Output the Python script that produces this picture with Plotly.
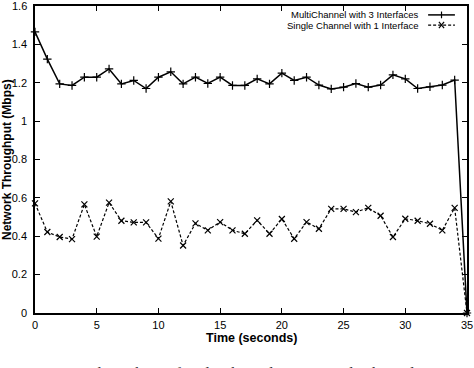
import plotly.graph_objects as go

time_s = list(range(0, 36))
multi_channel = [1.465, 1.323, 1.194, 1.186, 1.229, 1.229, 1.272, 1.194, 1.212, 1.170,
                 1.229, 1.257, 1.194, 1.229, 1.196, 1.229, 1.186, 1.186, 1.220, 1.194,
                 1.250, 1.212, 1.229, 1.188, 1.168, 1.177, 1.196, 1.177, 1.188, 1.241,
                 1.220, 1.170, 1.179, 1.188, 1.214, 0.0]
single_channel = [0.571, 0.422, 0.396, 0.385, 0.566, 0.398, 0.575, 0.481, 0.472, 0.472,
                  0.388, 0.582, 0.352, 0.467, 0.431, 0.474, 0.431, 0.413, 0.483, 0.413,
                  0.490, 0.387, 0.474, 0.439, 0.543, 0.543, 0.526, 0.548, 0.507, 0.396,
                  0.491, 0.481, 0.465, 0.431, 0.548, 0.0]
x_ticks = [0, 5, 10, 15, 20, 25, 30, 35]
y_ticks = [0, 0.2, 0.4, 0.6, 0.8, 1, 1.2, 1.4, 1.6]
y_tick_labels = ["0", "0.2", "0.4", "0.6", "0.8", "1", "1.2", "1.4", "1.6"]
series_names = ["MultiChannel with 3 Interfaces", "Single Channel with 1 Interface"]
y_range = [0, 1.6]

FONT = "Liberation Sans, Arial, sans-serif"

fig = go.Figure()
fig.add_trace(go.Scatter(
    x=time_s, y=multi_channel, mode="lines+markers", name=series_names[0],
    line=dict(color="black", width=1.5),
    marker=dict(symbol="cross-thin", size=6, line=dict(color="black", width=1.2)),
    showlegend=False, cliponaxis=False))
fig.add_trace(go.Scatter(
    x=time_s, y=single_channel, mode="lines+markers", name=series_names[1],
    line=dict(color="black", width=1.2, dash="3px,2px"),
    marker=dict(symbol="x-thin", size=6, line=dict(color="black", width=1.2)),
    showlegend=False, cliponaxis=False))

axis_common = dict(
    showgrid=False, zeroline=False, showline=True, linecolor="black", linewidth=1.5,
    mirror="ticks", ticks="inside", ticklen=5, tickcolor="black", tickwidth=1,
    ticklabeloverflow="allow", automargin=False,
    tickfont=dict(family=FONT, size=11, color="black"))

# Plotly hides the top tick label at the div edge; it is drawn as a paper annotation below.
axis_labels = y_tick_labels[:-1] + [""]
fig.update_xaxes(range=[0, 35], tickvals=x_ticks, ticklabelstandoff=1, **axis_common)
fig.update_yaxes(range=y_range, tickvals=y_ticks, ticktext=axis_labels,
                 ticklabelstandoff=4, **axis_common)

top_label_y = (y_ticks[-1] - y_range[0]) / (y_range[1] - y_range[0])

annotations = [
    dict(text=y_tick_labels[-1], xref="paper", yref="paper", x=0, y=top_label_y,
         xanchor="right", yanchor="middle", xshift=-6, yshift=0, showarrow=False,
         font=dict(family=FONT, size=11, color="black")),
    dict(text="<b>Time (seconds)</b>", xref="paper", yref="paper", x=0.5, y=-0.052,
         xanchor="center", yanchor="top", showarrow=False,
         font=dict(family=FONT, size=12.5, color="black")),
    dict(text="<b>Network Throughput (Mbps)</b>", xref="paper", yref="paper",
         x=-0.066, y=0.5, xanchor="center", yanchor="middle", textangle=-90,
         showarrow=False, font=dict(family=FONT, size=12, color="black")),
    dict(text="Fig. 2.  Throughput of multi-channel versus single channel",
         xref="paper", yref="paper", x=0.005, y=-0.163, xanchor="left", yanchor="top",
         showarrow=False, font=dict(family="Liberation Serif, Times New Roman, serif",
                                    size=16, color="#333")),
    dict(text=series_names[0], xref="paper", yref="paper", x=0.894, y=0.971,
         xanchor="right", yanchor="middle", showarrow=False,
         font=dict(family=FONT, size=9.5, color="black")),
    dict(text=series_names[1], xref="paper", yref="paper", x=0.894, y=0.938,
         xanchor="right", yanchor="middle", showarrow=False,
         font=dict(family=FONT, size=9.5, color="black")),
]

shapes = [
    dict(type="line", xref="paper", yref="paper", x0=0.910, x1=0.972, y0=0.971, y1=0.971,
         line=dict(color="black", width=1.5)),
    dict(type="line", xref="paper", yref="paper", x0=0.941, x1=0.941, y0=0.960, y1=0.982,
         line=dict(color="black", width=1.2)),
    dict(type="line", xref="paper", yref="paper", x0=0.910, x1=0.972, y0=0.938, y1=0.938,
         line=dict(color="black", width=1.2, dash="3px,2px")),
    dict(type="line", xref="paper", yref="paper", x0=0.935, x1=0.947, y0=0.928, y1=0.948,
         line=dict(color="black", width=1.2)),
    dict(type="line", xref="paper", yref="paper", x0=0.935, x1=0.947, y0=0.948, y1=0.928,
         line=dict(color="black", width=1.2)),
]

fig.update_layout(
    width=474, height=368,
    margin=dict(l=35, r=7, t=6, b=55, pad=0, autoexpand=False),
    plot_bgcolor="white", paper_bgcolor="white",
    annotations=annotations, shapes=shapes, showlegend=False,
    font=dict(family=FONT, color="black"),
)

fig.write_html("out.html", config={"displayModeBar": False},
               post_script="document.body.style.margin='0';document.body.style.overflow='hidden';")
